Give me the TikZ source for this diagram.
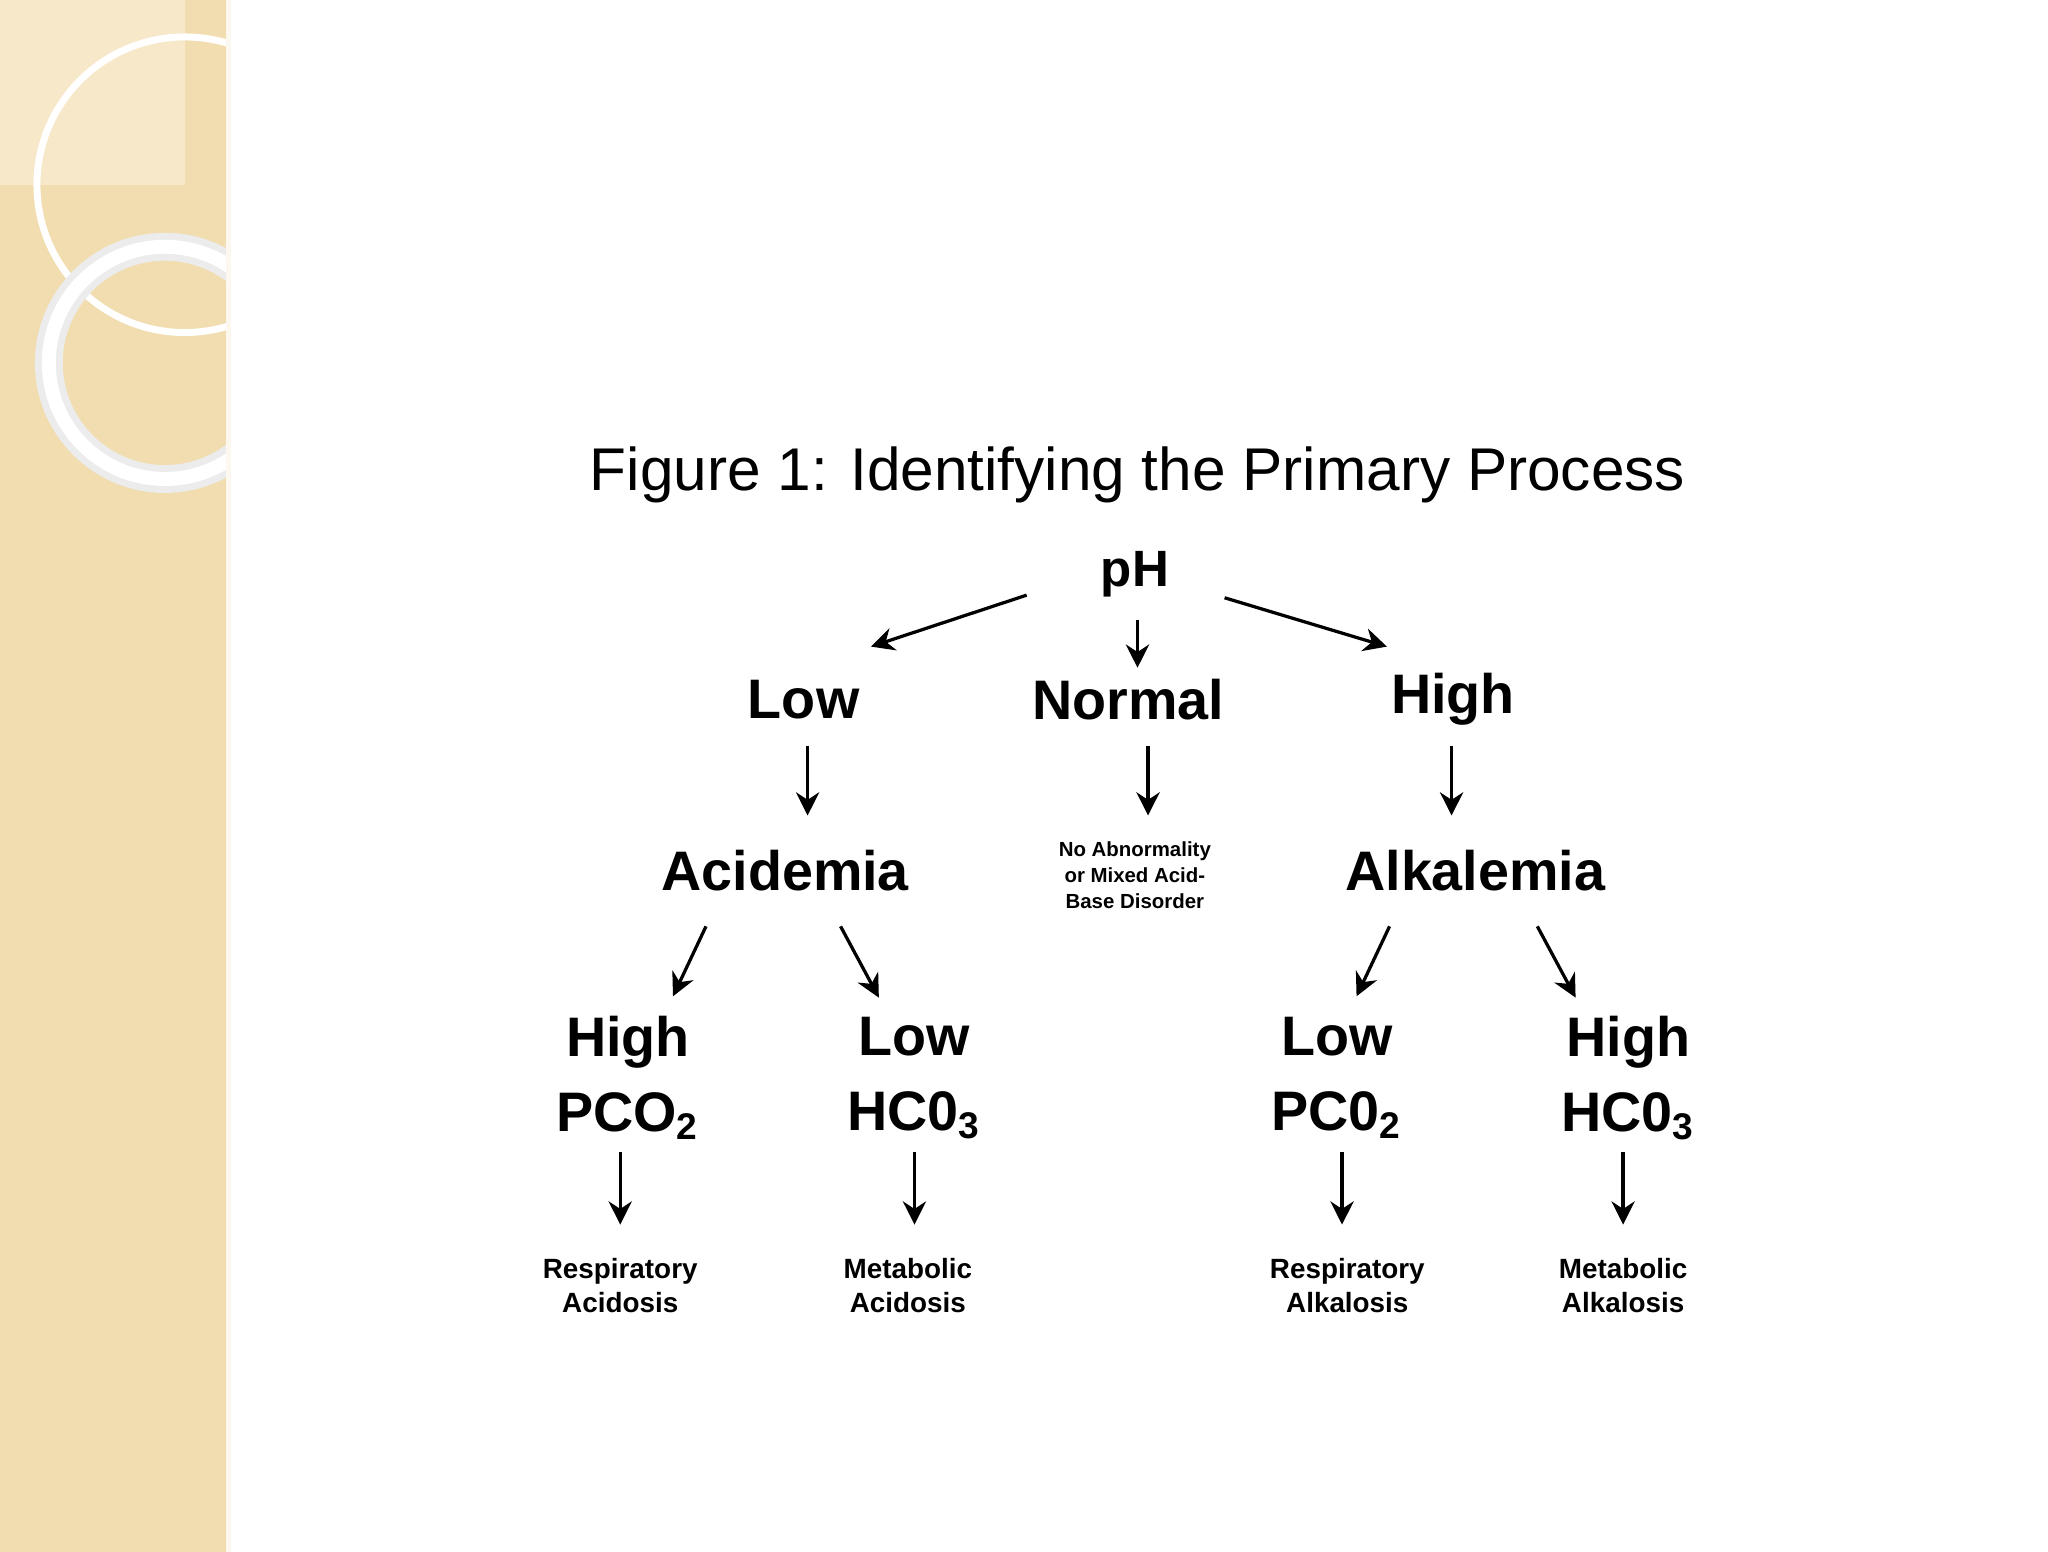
\documentclass[tikz,border=0pt]{standalone}
\usepackage{fontspec}
\setmainfont{Liberation Sans}
\usetikzlibrary{arrows.meta}
\definecolor{band}{HTML}{F1DDB0}
\definecolor{bandlight}{HTML}{F6E8C8}
\begin{document}
\begin{tikzpicture}[x=0.01cm,y=-0.01cm,
  big/.style={font=\bfseries\fontsize{12}{14}\selectfont,inner sep=0},
  mid/.style={font=\bfseries\fontsize{11}{13}\selectfont,inner sep=0},
  small/.style={font=\bfseries\fontsize{6}{7.4}\selectfont,align=center,inner sep=0},
  tiny/.style={font=\bfseries\fontsize{4.4}{5.6}\selectfont,align=center,inner sep=0},
  arr/.style={-{Stealth[length=5pt,width=5pt]},line width=0.7pt}]
\useasboundingbox (0,0) rectangle (1552,1176);
\fill[white] (0,0) rectangle (1552,1176);
\begin{scope}
\clip (0,0) rectangle (173,1176);
\fill[band] (0,0) rectangle (173,1176);
\fill[bandlight] (0,0) rectangle (140,140);
\draw[white,line width=1.5pt] (140,140) circle (112);
\draw[white!85!gray,line width=6pt] (125,275) circle (88);
\draw[white,line width=3pt] (125,275) circle (88);
\end{scope}
\draw[white!80!band,line width=1pt] (173,0) -- (173,1176);

\node[font=\fontsize{13}{15}\selectfont,inner sep=0] (title) at (862,360) {Figure 1: Identifying the Primary Process};
\node[mid] (ph) at (860,435) {pH};
\node[big] (low) at (609,530) {Low};
\node[big] (normal) at (855,530) {Normal};
\node[big] (high) at (1101,530) {High};
\node[big] (acid) at (595,660) {Acidemia};
\node[tiny] (noab) at (860,663) {No Abnormality\\or Mixed Acid-\\Base Disorder};
\node[big] (alk) at (1118,660) {Alkalemia};
\node[big,align=center,font=\bfseries\fontsize{12}{16}\selectfont] (hpco) at (476,817) {High\\PCO$_{\mathbf 2}$};
\node[big,align=center,font=\bfseries\fontsize{12}{16}\selectfont] (lhco) at (693,817) {Low\\HC0$_{\mathbf 3}$};
\node[big,align=center,font=\bfseries\fontsize{12}{16}\selectfont] (lpco) at (1013,817) {Low\\PC0$_{\mathbf 2}$};
\node[big,align=center,font=\bfseries\fontsize{12}{16}\selectfont] (hhco) at (1234,817) {High\\HC0$_{\mathbf 3}$};
\node[small] (ra) at (470,974) {Respiratory\\Acidosis};
\node[small] (ma) at (688,974) {Metabolic\\Acidosis};
\node[small] (ral) at (1021,974) {Respiratory\\Alkalosis};
\node[small] (mal) at (1230,974) {Metabolic\\Alkalosis};

\coordinate (a1) at (778,451); \coordinate (b1) at (660,490);
\coordinate (a2) at (862,470); \coordinate (b2) at (862,506);
\coordinate (a3) at (928,453); \coordinate (b3) at (1051,490);
\coordinate (a4) at (612,565); \coordinate (b4) at (612,618);
\coordinate (a5) at (870,565); \coordinate (b5) at (870,618);
\coordinate (a6) at (1100,565); \coordinate (b6) at (1100,618);
\coordinate (a7) at (535,702); \coordinate (b7) at (510,755);
\coordinate (a8) at (637,702); \coordinate (b8) at (666,756);
\coordinate (a9) at (1053,702); \coordinate (b9) at (1028,755);
\coordinate (a10) at (1165,702); \coordinate (b10) at (1194,756);
\coordinate (a11) at (470,873); \coordinate (b11) at (470,928);
\coordinate (a12) at (693,873); \coordinate (b12) at (693,928);
\coordinate (a13) at (1017,873); \coordinate (b13) at (1017,928);
\coordinate (a14) at (1230,873); \coordinate (b14) at (1230,928);
\foreach \i in {1,...,14} \draw[arr] (a\i) -- (b\i);
\end{tikzpicture}
\end{document}
